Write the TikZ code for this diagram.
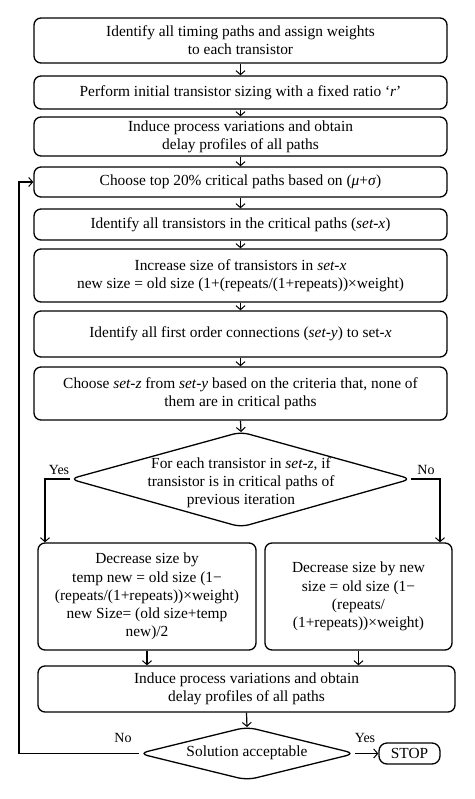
\documentclass[tikz,border=0pt]{standalone}
\usepackage{fontspec}
\setmainfont{Liberation Serif}
\usetikzlibrary{arrows.meta}
\begin{document}
\begin{tikzpicture}[x=1pt,y=-1pt,
  every node/.style={font=\fontsize{15.4}{18.2}\selectfont},
  box/.style={draw, rounded corners=7pt, line width=1.3pt, align=center, inner sep=0pt},
  txt/.style={align=center, inner sep=0pt},
  lbl/.style={inner sep=0pt, font=\fontsize{14}{16}\selectfont},
  ln/.style={line width=1.3pt},
  arr/.style={line width=1.2pt, -{Straight Barb[length=4pt,width=9pt,line width=1pt]}},
]
\useasboundingbox (0,0) rectangle (474,799);

\node[box, minimum width=413pt, minimum height=45pt] (b1) at (240.5,40.5)
  {Identify all timing paths and assign weights\\to each transistor};
\node[box, minimum width=413pt, minimum height=33pt] (b2) at (240.5,92.5)
  {Perform initial transistor sizing with a fixed ratio ‘\textit{r}’};
\node[box, minimum width=413pt, minimum height=39pt] (b3) at (240.5,136.5)
  {Induce process variations and obtain\\delay profiles of all paths};
\node[box, minimum width=413pt, minimum height=30pt] (b4) at (240.5,182)
  {Choose top 20\% critical paths based on (\textit{μ}+\textit{σ})};
\node[box, minimum width=413pt, minimum height=31pt] (b5) at (240.5,224.5)
  {Identify all transistors in the critical paths (\textit{set-x})};
\node[box, minimum width=413pt, minimum height=53pt] (b6) at (240.5,275.5)
  {Increase size of transistors in \textit{set-x}\\new size = old size (1+(repeats/(1+repeats))×weight)};
\node[box, minimum width=413pt, minimum height=46pt] (b7) at (240.5,334)
  {Identify all first order connections (\textit{set-y}) to set-\textit{x}};
\node[box, minimum width=413pt, minimum height=53pt] (b8) at (240.5,393.5)
  {Choose \textit{set-z} from \textit{set-y} based on the criteria that, none of\\them are in critical paths};

% decision 1
\coordinate (d1t) at (241,432);
\coordinate (d1r) at (411,479);
\coordinate (d1b) at (241,527);
\coordinate (d1l) at (70,479);
\draw[ln, rounded corners=8pt] (d1t) -- (d1r) -- (d1b) -- (d1l) -- cycle;
\node[txt] (d1) at (241,483)
  {For each transistor in \textit{set-z}, if\\transistor is in critical paths of\\previous iteration};

\node[box, minimum width=218pt, minimum height=107pt] (b9) at (147,596.5)
  {Decrease size by\\temp new = old size (1−\\(repeats/(1+repeats))×weight)\\new Size= (old size+temp\\new)/2};
\node[box, minimum width=187pt, minimum height=107pt] (b10) at (358.5,596.5)
  {Decrease size by new\\size = old size (1−\\(repeats/\\(1+repeats))×weight)};
\node[box, minimum width=417pt, minimum height=46pt] (b11) at (246.5,689)
  {Induce process variations and obtain\\delay profiles of all paths};

% decision 2
\coordinate (d2t) at (247,727);
\coordinate (d2r) at (355,753.5);
\coordinate (d2b) at (247,780);
\coordinate (d2l) at (139,753.5);
\draw[ln, rounded corners=9pt] (d2t) -- (d2r) -- (d2b) -- (d2l) -- cycle;
\node[txt] (d2) at (247,753) {Solution acceptable};

\node[box, rounded corners=8pt, minimum width=61pt, minimum height=21pt] (stop) at (409.5,753.5) {STOP};

% labels
\node[lbl] (yes1) at (59,470) {Yes};
\node[lbl] (no1) at (426,470) {No};
\node[lbl] (no2) at (123,738) {No};
\node[lbl] (yes2) at (365,738) {Yes};

% connectors
\draw[arr] (b1.south) -- (b2.north);
\draw[arr] (b2.south) -- (b3.north);
\draw[arr] (b3.south) -- (b4.north);
\draw[arr] (b4.south) -- (b5.north);
\draw[arr] (b5.south) -- (b6.north);
\draw[arr] (b6.south) -- (b7.north);
\draw[arr] (b7.south) -- (b8.north);
\draw[arr] (b8.south) -- (d1t);

\coordinate (yc) at (45,479);
\coordinate (nc) at (440,479);
\draw[arr] (d1l) -- (yc) -- (yc |- b9.north);
\draw[arr] (d1r) -- (nc) -- (nc |- b10.north);

\draw[arr] (b9.south) -- (b9.south |- b11.north);
\draw[arr] (b10.south) -- (b10.south |- b11.north);
\draw[arr] (b11.south) -- (d2t);

\draw[arr] (d2r) -- (stop.west);
\coordinate (lp) at (19,753.5);
\draw[arr] (d2l) -- (lp) |- (b4.west);
\end{tikzpicture}
\end{document}
